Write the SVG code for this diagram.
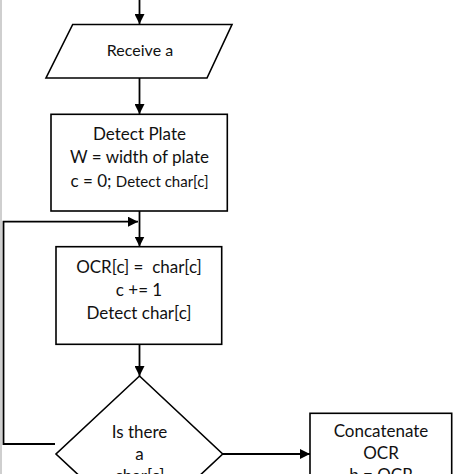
<svg xmlns="http://www.w3.org/2000/svg" width="474" height="474" viewBox="0 0 474 474">
<defs>
<marker id="ah" markerWidth="10" markerHeight="10" viewBox="0 0 10 10" refX="10" refY="5" orient="auto" markerUnits="userSpaceOnUse">
<path d="M0,0 L10,5 L0,10 Z" fill="#000"/>
</marker>
</defs>
<style>
.s{fill:#fff;stroke:#000;stroke-width:1.6}
.c{fill:none;stroke:#000;stroke-width:1.8}
.t{font-family:Lato,"Open Sans",sans-serif;font-size:17px;fill:#111;text-anchor:middle;white-space:pre}
.sm{font-size:15px}
</style>
<rect x="0" y="0" width="2" height="474" fill="#cfcfcf"/>
<g id="connectors">
<path class="c" d="M139.5,0 V24" marker-end="url(#ah)"/>
<path class="c" d="M139.5,78 V114" marker-end="url(#ah)"/>
<path class="c" d="M139.5,211 V246.5" marker-end="url(#ah)"/>
<path class="c" d="M55,444 H3.5 V221.7 H138" marker-end="url(#ah)"/>
<path class="c" d="M139.5,344 V376" marker-end="url(#ah)"/>
<path class="c" d="M222.5,454 H310" marker-end="url(#ah)"/>
</g>
<g id="receive">
<polygon class="s" points="72.7,24.5 232,24.5 207,78 46,78"/>
<text class="t" x="140" y="56" style="font-size:16px">Receive a</text>
</g>
<g id="detect-plate">
<rect class="s" x="51" y="114.3" width="176.3" height="96.7"/>
<text class="t" x="139.5" y="140">Detect Plate</text>
<text class="t" x="139.5" y="163">W = width of plate</text>
<text class="t" x="139.5" y="187">c = 0; <tspan class="sm">Detect char[c]</tspan></text>
</g>
<g id="ocr">
<rect class="s" x="56" y="246.7" width="165.7" height="97.6"/>
<text class="t" x="139" y="273" xml:space="preserve">OCR[c] =  char[c]</text>
<text class="t" x="139" y="296">c += 1</text>
<text class="t" x="139" y="319">Detect char[c]</text>
</g>
<g id="decision">
<polygon class="s" points="139.5,376 222.7,454 139.5,532 56,454"/>
<text class="t" x="139.5" y="438">Is there</text>
<text class="t" x="139.5" y="460">a</text>
<text class="t" x="139.5" y="482">char[c]</text>
</g>
<g id="concat">
<rect class="s" x="310" y="413.3" width="141.7" height="100"/>
<text class="t" x="381" y="437">Concatenate</text>
<text class="t" x="381" y="459">OCR</text>
<text class="t" x="381" y="481">b = OCR</text>
</g>
</svg>
